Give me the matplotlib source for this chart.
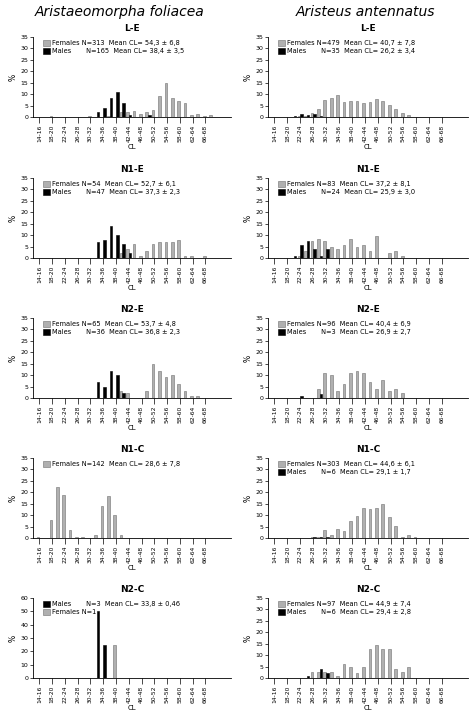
import matplotlib
matplotlib.use("Agg")
import matplotlib.pyplot as plt
import numpy as np

classes = [f"{14+2*i}-{16+2*i}" for i in range(28)]

def arr(d):
    a = np.zeros(28)
    for k, v in d.items():
        a[(k - 14)//2] = v
    return a

# Aristaeomorpha foliacea
LE_L_f = arr({18:0.3,26:0.2,30:0.3,36:0.3,40:2,42:2,44:2.8,46:1.2,48:2.2,50:3,52:9.2,54:15,56:8.3,58:7.2,60:6,62:0.8,64:1.2,66:0.4,68:1})
LE_L_m = arr({32:2.3,34:3.8,36:8.3,38:11,40:6,42:0.8,48:0.8})
N1E_L_f = arr({40:2,42:4,44:6,46:1,48:3,50:6,52:7,54:7,56:7,58:8,60:1,62:1,66:1})
N1E_L_m = arr({32:7,34:8,36:14,38:10,40:6,42:2})
N2E_L_f = arr({40:3,42:2,48:3,50:15,52:12,54:9,56:10,58:6,60:3,62:1,64:1,68:0.1})
N2E_L_m = arr({32:7,34:5,36:12,38:10,40:2})
N1C_L_f = arr({14:0.5,16:0.1,18:7.8,20:22.5,22:19,24:3.5,26:0.6,28:0.5,30:0.1,32:1.3,34:14,36:18.3,38:10,40:1.3})
N2C_L_f = arr({38:25})
N2C_L_m = arr({32:50,34:25})
# Aristeus antennatus
LE_R_f = arr({14:0.1,22:0.3,24:0.5,26:1.7,28:3.5,30:7.5,32:8.5,34:9.5,36:6.5,38:7,40:7,42:6.3,44:6.5,46:7.9,48:7.1,50:5.2,52:3.6,54:1.8,56:1,58:0.2,60:0.1})
LE_R_m = arr({20:0.4,22:1.3,24:1.0,26:1.3,28:0.6})
N1E_R_f = arr({22:1,24:3,26:7.5,28:8.5,30:7.5,32:4.7,34:4,36:5.7,38:8.5,40:4.7,42:5.7,44:3,46:9.5,50:2,52:3,54:1})
N1E_R_m = arr({20:1,22:5.5,24:7.5,26:4,28:1,30:4})
N2E_R_f = arr({28:4,30:11,32:10,34:3,36:6,38:11,40:12,42:11,44:7,46:4,48:8,50:3,52:4,54:2})
N2E_R_m = arr({22:0.7,28:1.7})
N1C_R_f = arr({22:0.2,24:0.2,26:0.4,28:0.6,30:3.5,32:1.3,34:3.8,36:3,38:7.3,40:9.7,42:13,44:12.5,46:13.2,48:15,50:9,52:5.2,54:0.5,56:1.2,58:0.5})
N1C_R_m = arr({26:0.3,28:0.5,30:0.5})
N2C_R_f = arr({26:2.8,28:2.8,30:2.6,32:2.8,34:1,36:6,38:4.8,40:2,42:5,44:12.7,46:14.3,48:12.6,50:12.6,52:3.8,54:2.8,56:5})
N2C_R_m = arr({24:0.8,28:3.8,30:2})

panels = [
 ("L-E", LE_L_f, LE_L_m, "Females N=313  Mean CL= 54,3 ± 6,8", "Males       N=165  Mean CL= 38,4 ± 3,5", 35, False),
 ("L-E", LE_R_f, LE_R_m, "Females N=479  Mean CL= 40,7 ± 7,8", "Males       N=35  Mean CL= 26,2 ± 3,4", 35, False),
 ("N1-E", N1E_L_f, N1E_L_m, "Females N=54  Mean CL= 52,7 ± 6,1", "Males       N=47  Mean CL= 37,3 ± 2,3", 35, False),
 ("N1-E", N1E_R_f, N1E_R_m, "Females N=83  Mean CL= 37,2 ± 8,1", "Males       N=24  Mean CL= 25,9 ± 3,0", 35, False),
 ("N2-E", N2E_L_f, N2E_L_m, "Females N=65  Mean CL= 53,7 ± 4,8", "Males       N=36  Mean CL= 36,8 ± 2,3", 35, False),
 ("N2-E", N2E_R_f, N2E_R_m, "Females N=96  Mean CL= 40,4 ± 6,9", "Males       N=3  Mean CL= 26,9 ± 2,7", 35, False),
 ("N1-C", N1C_L_f, None, "Females N=142  Mean CL= 28,6 ± 7,8", None, 35, False),
 ("N1-C", N1C_R_f, N1C_R_m, "Females N=303  Mean CL= 44,6 ± 6,1", "Males       N=6  Mean CL= 29,1 ± 1,7", 35, False),
 ("N2-C", N2C_L_f, N2C_L_m, "Females N=1", "Males       N=3  Mean CL= 33,8 ± 0,46", 60, True),
 ("N2-C", N2C_R_f, N2C_R_m, "Females N=97  Mean CL= 44,9 ± 7,4", "Males       N=6  Mean CL= 29,4 ± 2,8", 35, False),
]

W, H = 474, 719
fig = plt.figure(figsize=(W/100, H/100), dpi=100)
fig.text(120/W, 1-12/H, "Aristaeomorpha foliacea", style="italic", ha="center", va="center", fontsize=10)
fig.text(365/W, 1-12/H, "Aristeus antennatus", style="italic", ha="center", va="center", fontsize=10)

tops = [37, 178, 318, 458, 598]
hgt = 80
x_idx = np.arange(28)
for k, (title, f, m, lf, lm, ymax, males_first) in enumerate(panels):
    r, c = divmod(k, 2)
    left = 33 if c == 0 else 268
    wid = 198 if c == 0 else 200
    top = tops[r]
    ax = fig.add_axes([left/W, 1-(top+hgt)/H, wid/W, hgt/H])
    hf = ax.bar(x_idx - 0.2, f, width=0.42, color="#b0b0b0", edgecolor="#707070", linewidth=0.4)
    handles = [hf]; labels = [lf]
    if m is not None:
        hm = ax.bar(x_idx + 0.2, m, width=0.42, color="black", edgecolor="black", linewidth=0.4)
        if males_first:
            handles = [hm, hf]; labels = [lm, lf]
        else:
            handles = [hf, hm]; labels = [lf, lm]
    ax.set_ylim(0, ymax)
    ax.set_yticks(np.arange(0, ymax+1, 5 if ymax == 35 else 10))
    ax.set_xlim(-1, 30)
    ax.set_xticks(x_idx[::2])
    ax.set_xticklabels(classes[::2], rotation=90, fontsize=4.3)
    ax.tick_params(axis="y", labelsize=4.5, length=2, width=0.5, pad=1.5)
    ax.tick_params(axis="x", length=4, width=0.5, pad=1.5)
    for s in ["top", "right"]:
        ax.spines[s].set_visible(False)
    for s in ["left", "bottom"]:
        ax.spines[s].set_linewidth(0.6)
    ax.set_title(title, fontsize=6.5, fontweight="bold", pad=4)
    ax.set_ylabel("%", fontsize=5.5, labelpad=2)
    ax.set_xlabel("CL", fontsize=5, labelpad=1)
    ax.legend(handles, labels, loc="upper left", bbox_to_anchor=(0.02, 1.04), frameon=False,
              fontsize=4.8, handlelength=1.0, handleheight=1.0, labelspacing=0.3, handletextpad=0.4)

fig.savefig("out.png", dpi=100)
